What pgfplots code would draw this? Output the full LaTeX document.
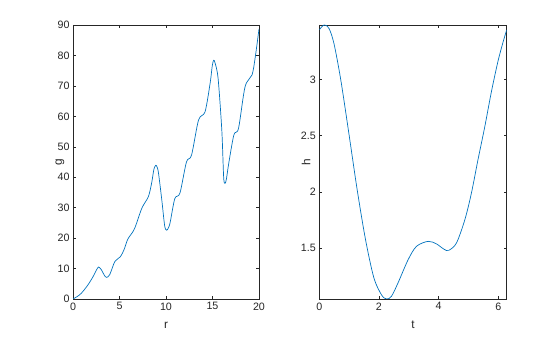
\documentclass[border=0pt]{standalone}
\usepackage{fontspec}
\setmainfont{Liberation Sans}
\usepackage{pgfplots}
\pgfplotsset{compat=1.18}
\definecolor{mblue}{rgb}{0,0.447,0.741}
\definecolor{mgray}{rgb}{0.15,0.15,0.15}
\pgfplotsset{
  mstyle/.style={
    scale only axis,
    axis line style={mgray, line width=0.5pt},
    tick style={mgray, line width=0.5pt},
    tick align=inside,
    major tick length=3pt,
    xtick pos=both, ytick pos=both,
    every tick label/.append style={font=\fontsize{10.7}{12}\selectfont, text=mgray},
    label style={font=\fontsize{11.8}{13}\selectfont, text=mgray},
    /pgf/number format/assume math mode=true,
    xlabel style={at={(axis description cs:0.5,-0.095)}, anchor=center},
    ylabel style={at={(axis description cs:-0.07,0.5)}, anchor=center},
    clip=true,
  }
}
\begin{document}
\begin{tikzpicture}
\useasboundingbox (0pt,0pt) rectangle (560pt,337pt);
\begin{axis}[mstyle, at={(73pt,38pt)}, anchor=south west,
  width=186pt, height=274pt,
  xmin=0, xmax=20, ymin=0, ymax=90,
  xtick={0,5,10,15,20}, ytick={0,10,20,30,40,50,60,70,80,90},
  xlabel={r}, ylabel={g}]
\addplot[mblue, line width=0.7pt, smooth, tension=0.5] coordinates {
(0,0) (0.45,0.8) (0.9,1.9) (1.6,4.6) (2.15,7.3) (2.5,9.4) (2.75,10.5) (3.05,9.6) (3.35,7.9) (3.6,7.1) (3.95,8.0)
(4.5,12.3) (5.1,13.9) (5.5,16.3) (5.9,19.7) (6.6,23.0) (7.4,29.8) (8.1,33.6)
(8.45,38) (8.7,42.6) (8.9,43.9) (9.05,43.3) (9.2,41.2) (9.55,32.5) (9.85,24.2) (10.05,22.6) (10.25,23.3) (10.45,25.2)
(10.95,33) (11.5,34.8) (12.2,45) (12.75,47.3) (13.5,58.8) (14.2,61.5) (14.75,71)
(14.97,76.5) (15.12,78.4) (15.27,77.6) (15.6,72.5) (16.0,55.5) (16.2,40) (16.35,38) (16.5,39.5) (16.75,44.6)
(17.3,53.9) (17.8,56.1) (18.5,69.7) (19.25,73.6) (19.6,79.5) (20,88.7)
};
\end{axis}
\begin{axis}[mstyle, at={(319.3pt,38pt)}, anchor=south west,
  width=187.4pt, height=274pt,
  xmin=0, xmax=6.2832, ymin=1.05, ymax=3.483,
  xtick={0,2,4,6}, ytick={1.5,2,2.5,3},
  xlabel={t}, ylabel={h}]
\addplot[mblue, line width=0.7pt, smooth, tension=0.5] coordinates {
(0,3.44) (0.16,3.483) (0.32,3.455) (0.49,3.32) (0.72,2.996) (0.99,2.523) (1.27,2.02)
(1.55,1.577) (1.83,1.238) (2.09,1.085) (2.26,1.05) (2.42,1.074) (2.64,1.193) (2.98,1.40)
(3.26,1.518) (3.65,1.562) (3.93,1.539) (4.18,1.492) (4.34,1.482) (4.60,1.548) (4.88,1.754)
(5.10,1.99) (5.32,2.286) (5.55,2.582) (5.77,2.89) (5.99,3.16) (6.16,3.33) (6.2832,3.44)
};
\end{axis}
\end{tikzpicture}
\end{document}
